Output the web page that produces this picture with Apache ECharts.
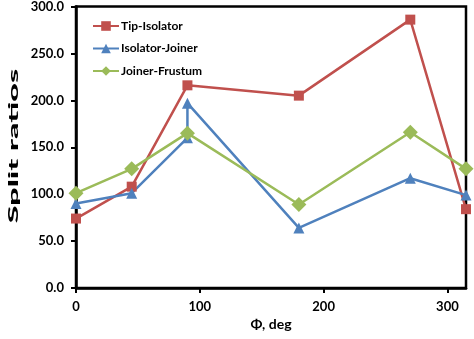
<!DOCTYPE html>
<html>
<head>
<meta charset="utf-8">
<script src="https://cdn.jsdelivr.net/npm/echarts@6/dist/echarts.min.js"></script>
<style>html,body{margin:0;padding:0;background:#fff}#c{width:474px;height:339px}</style>
</head>
<body>
<div id="c"></div>
<script>
var seriesNames = ['Tip-Isolator', 'Isolator-Joiner', 'Joiner-Frustum'];
var tipIsolator = [[0, 74], [45, 108], [90, 216], [180, 205], [270, 286], [315, 84]];
var isolatorJoiner = [[0, 90], [45, 101], [90, 160], [90, 197], [180, 64], [270, 117], [315, 99]];
var joinerFrustum = [[0, 101], [45, 127], [90, 165], [180, 89], [270, 166], [315, 127]];
var xTicks = [0, 100, 200, 300];
var yTicks = [0, 50, 100, 150, 200, 250, 300];
var xTitle = 'Φ, deg';
var yTitle = 'Split ratios';

var colors = ['#C0504D', '#4F81BD', '#9BBB59'];
var font = 'Lato, "Liberation Sans", sans-serif';
var chart = echarts.init(document.getElementById('c'), null, {renderer: 'canvas'});
function mk(name, data, color, symbol, size) {
  return {
    name: name, type: 'line', data: data, symbol: symbol, symbolSize: size,
    showAllSymbol: true,
    lineStyle: {color: color, width: 2.5},
    itemStyle: {color: color, borderWidth: 0},
    emphasis: {disabled: true}, animation: false
  };
}
chart.setOption({
  animation: false,
  backgroundColor: '#fff',
  grid: {left: 76, right: 8, top: 6, bottom: 51, show: true, borderColor: '#000', borderWidth: 2.5, backgroundColor: 'transparent'},
  legend: {
    orient: 'vertical', left: 92, top: 20, itemWidth: 26, itemHeight: 12, itemGap: 10.5, padding: 0,
    data: seriesNames,
    textStyle: {fontFamily: font, fontWeight: 'bold', fontSize: 12, color: '#000', padding: [0, 0, 0, -3]}
  },
  xAxis: {
    type: 'value', min: 0, max: 315,
    name: xTitle, nameLocation: 'middle', nameGap: 28,
    nameTextStyle: {fontFamily: font, fontWeight: 'bold', fontSize: 14, color: '#000'},
    axisLine: {show: true, lineStyle: {color: '#000', width: 2.5}},
    axisTick: {show: true, inside: false, length: 5, lineStyle: {color: '#000', width: 2}, customValues: xTicks},
    axisLabel: {customValues: xTicks, margin: 12, fontFamily: font, fontWeight: 'bold', fontSize: 13, color: '#000'},
    splitLine: {show: false}
  },
  yAxis: {
    type: 'value', min: 0, max: 300, interval: 50,
    axisLine: {show: true, lineStyle: {color: '#000', width: 2.5}},
    axisTick: {show: true, inside: false, length: 5, lineStyle: {color: '#000', width: 2}},
    axisLabel: {margin: 12, fontFamily: font, fontWeight: 'bold', fontSize: 13, color: '#000',
      formatter: function (v) { return v.toFixed(1); }},
    splitLine: {show: false}
  },
  graphic: [{
    type: 'text', x: 13, y: 146, rotation: Math.PI / 2, scaleX: 2.3,
    style: {text: yTitle, font: '900 14px ' + font, fill: '#000', textAlign: 'center', textVerticalAlign: 'middle'}
  }],
  series: [
    mk(seriesNames[0], tipIsolator, colors[0], 'rect', 10),
    mk(seriesNames[1], isolatorJoiner, colors[1], 'triangle', 11),
    mk(seriesNames[2], joinerFrustum, colors[2], 'diamond', 15)
  ]
});
</script>
</body>
</html>
